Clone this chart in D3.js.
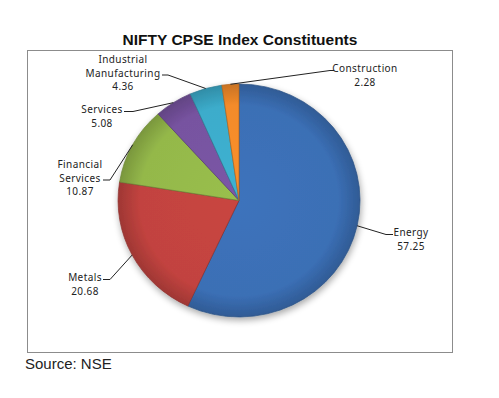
<!DOCTYPE html>
<html>
<head>
<meta charset="utf-8">
<script src="https://cdn.jsdelivr.net/npm/d3@7"></script>
<style>
  html, body { margin: 0; padding: 0; background: #fff; }
  svg { display: block; }
</style>
</head>
<body>
<svg id="chart" width="499" height="398"></svg>
<script>
// data
const sectors = ["Energy", "Metals", "Financial Services", "Services", "Industrial Manufacturing", "Construction"];
const weights = [57.25, 20.68, 10.87, 5.08, 4.36, 2.28];
const labelLines = [["Energy"], ["Metals"], ["Financial", "Services"], ["Services"], ["Industrial", "Manufacturing"], ["Construction"]];

// colours (excel 2007 palette, a bit more saturated like the picture)
const colors = ["#3b6fb5", "#c2433f", "#94b84a", "#7753a0", "#3caccb", "#f38b2a"];

// where each label sits: [text centre x, first baseline y, leader end x, elbow x]
const labelPos = [
  [411, 236, 393, 386],
  [85, 281, 103, 110],
  [80, 168, 103, 110],
  [102, 113, 124, 133],
  [123, 63, 162, 168],
  [365, 72, 334, 330]
];

const svg = d3.select("#chart");
const cx = 239, cy = 200.5, rx = 121, ry = 116.5;

function drawTxt(g, x, y, txt, size, weight, anchor, fill, family) {
  return g.append("text")
    .attr("x", x)
    .attr("y", y)
    .attr("font-size", size)
    .attr("font-weight", weight)
    .attr("font-family", family)
    .attr("fill", fill)
    .style("text-anchor", anchor)
    .text(txt);
}

// title
drawTxt(svg, 240, 45, "NIFTY CPSE Index Constituents", 15.5, "bold", "middle", "#111", "'Liberation Sans', Arial, sans-serif");

// frame
svg.append("rect")
  .attr("x", 27.5).attr("y", 50.5)
  .attr("width", 425).attr("height", 302)
  .attr("fill", "#fff")
  .attr("stroke", "#8c8c8c")
  .attr("stroke-width", 1);

// source
drawTxt(svg, 25, 369, "Source: NSE", 15, "normal", "start", "#222", "'Liberation Sans', Arial, sans-serif");

// gradients per slice
const defs = svg.append("defs");
colors.forEach((c, i) => {
  let grad = defs.append("radialGradient")
    .attr("id", "grad" + i)
    .attr("gradientUnits", "userSpaceOnUse")
    .attr("cx", 0).attr("cy", 0).attr("r", 1);
  grad.append("stop").attr("offset", "0%").attr("stop-color", d3.color(c).brighter(0.1));
  grad.append("stop").attr("offset", "82%").attr("stop-color", c);
  grad.append("stop").attr("offset", "100%").attr("stop-color", d3.color(c).darker(0.55));
});
let shadow = defs.append("filter").attr("id", "shadow")
  .attr("x", "-20%").attr("y", "-20%").attr("width", "140%").attr("height", "140%");
shadow.append("feGaussianBlur").attr("in", "SourceAlpha").attr("stdDeviation", 0.03).attr("result", "b");
shadow.append("feOffset").attr("in", "b").attr("dx", 0.01).attr("dy", 0.025).attr("result", "o");
shadow.append("feComponentTransfer").attr("in", "o").attr("result", "s")
  .append("feFuncA").attr("type", "linear").attr("slope", 0.35);
let merge = shadow.append("feMerge");
merge.append("feMergeNode").attr("in", "s");
merge.append("feMergeNode").attr("in", "SourceGraphic");

// pie drawn on a unit circle, then stretched into the ellipse
const pie = d3.pie().sort(null).value(d => d)(weights);
const arc = d3.arc().innerRadius(0).outerRadius(1);

const pieG = svg.append("g")
  .attr("transform", `translate(${cx},${cy}) scale(${rx},${ry})`)
  .attr("filter", "url(#shadow)");

pieG.selectAll("path.slice")
  .data(pie)
  .join("path")
  .attr("class", "slice")
  .attr("d", arc)
  .attr("fill", (d, i) => `url(#grad${i})`)
  .attr("stroke", (d, i) => d3.color(colors[i]).darker(0.9))
  .attr("stroke-width", 0.7)
  .attr("vector-effect", "non-scaling-stroke");

// leader lines and labels
const lblG = svg.append("g");
pie.forEach((d, i) => {
  let mid = (d.startAngle + d.endAngle) / 2;
  let px = cx + rx * Math.sin(mid);
  let py = cy - ry * Math.cos(mid);
  let p = labelPos[i];
  let lines = labelLines[i];
  // the leader meets the label on the row of the name's last line
  let ly = p[1] + (lines.length - 1) * 13.5 - 1.5;
  let path = d3.path();
  path.moveTo(px, py);
  path.lineTo(p[3], ly);
  path.lineTo(p[2], ly);
  lblG.append("path")
    .attr("d", path.toString())
    .attr("stroke", "#222")
    .attr("stroke-width", 1)
    .attr("fill", "none");

  lines.concat([weights[i].toFixed(2)]).forEach((t, k) => {
    drawTxt(lblG, p[0], p[1] + k * 13.5, t, 10, "normal", "middle", "#222", "'Noto Sans', 'DejaVu Sans', sans-serif")
      .attr("letter-spacing", 0.4);
  });
});
</script>
</body>
</html>
